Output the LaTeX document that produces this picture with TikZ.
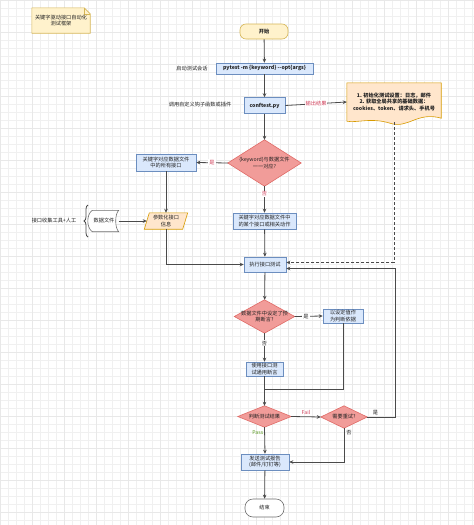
\documentclass[tikz,border=0pt]{standalone}
\usepackage{fontspec}
\newfontfamily\cjk{Noto Sans CJK SC}
\usetikzlibrary{arrows.meta,decorations.pathreplacing,calc}
\definecolor{bfill}{HTML}{DAE8FC}\definecolor{bline}{HTML}{6C8EBF}
\definecolor{yfill}{HTML}{FFF2CC}\definecolor{yline}{HTML}{D6B656}
\definecolor{ofill}{HTML}{FFE6CC}\definecolor{oline}{HTML}{D79B00}
\definecolor{rfill}{HTML}{F19C99}\definecolor{rline}{HTML}{E06A66}
\definecolor{ln}{HTML}{4A4A4A}
\definecolor{redtxt}{HTML}{D0405A}
\definecolor{greentxt}{HTML}{5A9A20}
\definecolor{txt}{HTML}{222222}
\pgfdeclarelayer{grid}\pgfdeclarelayer{shapes}
\pgfsetlayers{grid,shapes,main}
\begin{document}
\begin{tikzpicture}[x=1pt,y=-1pt,
  font=\cjk\fontsize{5.2}{6.6}\selectfont, text=txt,
  every node/.style={inner sep=0pt, align=center},
  bluebox/.style={draw=bline, fill=bfill, line width=0.6pt},
  term/.style={draw=yline, fill=yfill, rounded corners=6pt, line width=0.6pt},
  dia/.style={draw=none},
  lab/.style={fill=white, inner sep=1pt},
  conn/.style={draw=ln, line width=0.8pt},
  arr/.style={conn, -{Stealth[length=4pt,width=3.6pt]}}]
\useasboundingbox (0,0) rectangle (474,525);
\begin{pgfonlayer}{grid}
  \fill[white] (0,0) rectangle (474,525);
  \draw[black!6, line width=0.3pt, step=8pt] (0,0) grid (474,525);
  \draw[black!9, line width=0.3pt, step=32pt] (0,0) grid (474,525);
\end{pgfonlayer}

% note
\node[minimum width=58, minimum height=25] (note) at (61,20.5) {关键字驱动接口自动化\\测试框架};
% start
\node[term, minimum width=48, minimum height=15] (start) at (264,31.5) {\textbf{开始}};
\node[bluebox, minimum width=97, minimum height=11] (pytest) at (264.5,68.5) {\textbf{pytest -m \{keyword\} --opt\{args\}}};
\node (l1) at (192,68.5) {启动测试会话};
\node[bluebox, minimum width=41, minimum height=16] (conf) at (264.5,105.5) {\textbf{conftest.py}};
\node (l2) at (200,104.5) {调用自定义钩子函数或插件};
\node[minimum width=94, minimum height=38] (doc) at (394,102) {\textbf{1. 初始化测试设置：日志，邮件}\\\textbf{2. 获取全局共享的基础数据：}\\\textbf{cookies、token、请求头、手机号}};

\node[dia, minimum width=73, minimum height=46] (d1) at (264.5,163) {\{keyword\}与数据文件\\一一对应?};
\node[bluebox, minimum width=60, minimum height=17] (L1) at (166,162.5) {关键字对应数据文件\\中的所有接口};
\node[bluebox, minimum width=63, minimum height=16] (M1) at (264.5,221) {关键字对应数据文件中\\的某个接口或相关动作};
\node[minimum width=41, minimum height=16] (para) at (166,221) {参数化接口\\信息};
\node[minimum width=29, minimum height=21] (data) at (104,221) {数据文件};
\node (l3) at (54,221) {接口收集工具+人工};
\coordinate (bt) at (88,205); \coordinate (bb) at (88,237);

\node[bluebox, minimum width=42, minimum height=15] (exec) at (265,264.5) {执行接口测试};
\node[dia, minimum width=60, minimum height=33] (d2) at (264.5,316.5) {数据文件中设定了预\\期断言?};
\node[bluebox, minimum width=40, minimum height=14] (B2) at (343,316) {以设定值作\\为判断依据};
\node[bluebox, minimum width=37, minimum height=14] (B3) at (264.5,369) {使用接口测\\试通用断言};
\coordinate (j1) at (264.5,389);
\node[dia, minimum width=53, minimum height=21] (d3) at (264.5,416.5) {判断测试结果};
\node[dia, minimum width=46, minimum height=22] (d4) at (344,417) {需要重试?};
\coordinate (r1) at (395,417);
\node[bluebox, minimum width=48, minimum height=16] (rep) at (265,462) {发送测试报告\\(邮件/钉钉等)};
\node[draw=ln!80, fill=white, rounded corners=8pt, line width=0.6pt, minimum width=39, minimum height=18] (end) at (264.5,508) {结束};

% shapes behind text
\begin{pgfonlayer}{shapes}
  \filldraw[draw=yline, fill=yfill, line width=0.6pt] (note.north west) -- ($(note.north east)+(-6,0)$) -- ($(note.north east)+(0,6)$) -- (note.south east) -- (note.south west) -- cycle;
  \draw[yline, line width=0.6pt] ($(note.north east)+(-6,0)$) -- ($(note.north east)+(-6,6)$) -- ($(note.north east)+(0,6)$);
  \filldraw[draw=oline, fill=ofill, line width=0.6pt] (doc.north west) -- (doc.north east) -- ($(doc.south east)+(0,-3)$)
     .. controls ($(doc.south east)+(-24,-10)$) and ($(doc.south)+(14,8)$) .. ($(doc.south)+(-4,2)$)
     .. controls ($(doc.south west)+(24,-4)$) and ($(doc.south west)+(10,2)$) .. ($(doc.south west)+(0,0)$) -- cycle;
  \foreach \d in {d1,d2,d3,d4}
    \filldraw[draw=rline, fill=rfill, line width=0.6pt] (\d.north) -- (\d.east) -- (\d.south) -- (\d.west) -- cycle;
  \filldraw[draw=oline, fill=ofill, line width=0.6pt] ($(para.south west)+(-1,0)$) -- ($(para.north west)+(4,0)$) -- ($(para.north east)+(1,0)$) -- ($(para.south east)+(-4,0)$) -- cycle;
  \filldraw[draw=ln!80, fill=white, line width=0.6pt] ($(data.north west)+(3,0)$) -- ($(data.north east)$)
     .. controls ($(data.north east)+(-4,4)$) and ($(data.south east)+(-4,-4)$) .. (data.south east)
     -- ($(data.south west)+(3,0)$)
     .. controls ($(data.south west)+(-3,-4)$) and ($(data.north west)+(-3,4)$) .. ($(data.north west)+(3,0)$) -- cycle;
\end{pgfonlayer}

% connectors
\draw[arr] (start) -- (pytest);
\draw[arr] (pytest) -- (conf);
\draw[arr] (conf.east) -- node[lab, text=redtxt] {输出结果} (doc.west);
\draw[arr] (conf) -- (d1);
\draw[arr] (d1.west) -- node[lab, text=redtxt] {是} (L1.east);
\draw[arr] (d1.south) -- node[lab, pos=0.3, text=redtxt] {否} (M1.north);
\draw[arr] (L1.south) -- (para.north);
\draw[arr] (data.east) -- ($(para.west)+(1.5,0)$);
\draw[conn, decorate, decoration={brace, amplitude=4pt}] (bb) -- (bt);
\draw[arr] (M1) -- (exec);
\draw[arr] (para.south) |- (exec.west);
\draw[arr, dashed, dash pattern=on 3pt off 2pt] ($(doc.south)+(0,1)$) |- ($(exec.east)+(0,-2)$);
\draw[arr] (exec) -- (d2);
\draw[arr] (d2.east) -- node[lab, pos=0.4] {是} (B2.west);
\draw[arr] (d2.south) -- node[lab, pos=0.35] {否} (B3.north);
\draw[conn] (B2.south) |- (j1);
\draw[arr] (B3) -- (d3);
\draw[arr] (d3.east) -- node[above=2pt, text=redtxt] {Fail} (d4.west);
\draw[arr] (d4.east) -- (r1) |- ($(exec.east)+(0,4)$);
\node[above=2pt] at ($(d4.east)!0.3!(r1)$) {是};
\draw[arr] (d4.south) |- (rep.east);
\node at (349,433) {否};
\draw[arr] (d3.south) -- node[left=1pt, pos=0.2, text=greentxt] {Pass} (rep.north);
\draw[arr] (rep) -- (end);
\end{tikzpicture}
\end{document}
